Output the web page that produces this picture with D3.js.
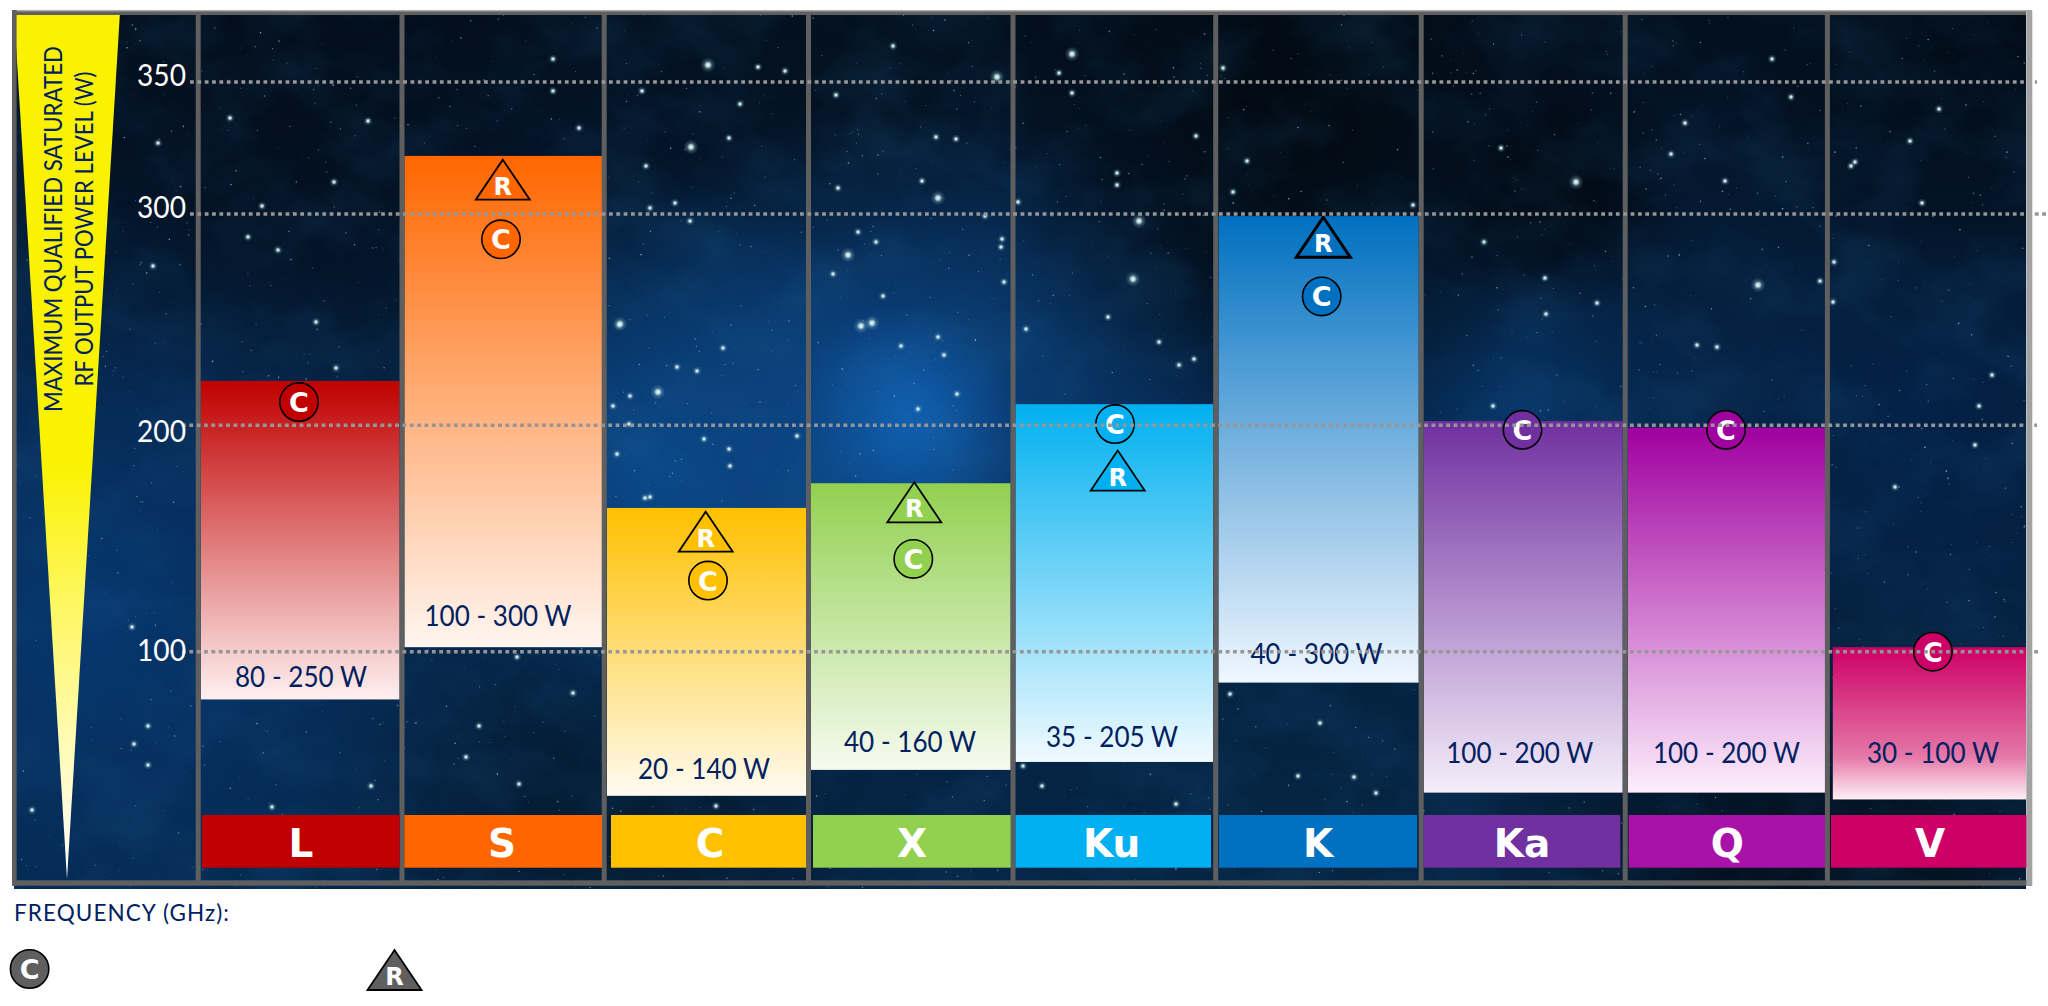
<!DOCTYPE html>
<html><head><meta charset="utf-8">
<script src="https://cdn.jsdelivr.net/npm/d3@7"></script>
<style>html,body{margin:0;padding:0;background:#fff}svg{display:block}</style>
</head><body><svg id="c" width="2048" height="1006"></svg>
<script>
// ---- data ----
const bands      = ["L","S","C","X","Ku","K","Ka","Q","V"];
const rangeText  = ["80 - 250 W","100 - 300 W","20 - 140 W","40 - 160 W","35 - 205 W","40 - 300 W","100 - 200 W","100 - 200 W","30 - 100 W"];
const barTop     = [221,322,163.5,174.4,210,299,202,199,102];
const barBottom  = [79,102,36.6,48,51.5,86.4,38,38,35];
const cMarker    = [211,288,131.4,141,200.6,261,198,198,100];
const rMarker    = [null,313,153,166,180,289,null,null,null];
const bandColor  = ["#C00000","#FF6600","#FFC000","#92D050","#00B0F0","#0070C0","#7030A0","#A000A0","#CC0066"];
const chipColor  = ["#C00000","#FF6600","#FFC000","#92D050","#00B0F0","#0070C0","#7030A0","#A812A8","#CC0066"];
const bandPale   = ["#FFF0F0","#FFF6F0","#FFFBF0","#F6FBF0","#F0FAFF","#F0F7FF","#F5EEFA","#FDEEFC","#FFF0F5"];
const ticks      = [100,200,300,350];
const axisDomain = [0,100,200,300,350,375];
const axisTitle  = ["MAXIMUM QUALIFIED SATURATED","RF OUTPUT POWER LEVEL (W)"];

// ---- layout ----
const W=2048,H=1006;
const svg=d3.select("#c");
const y=d3.scaleLinear().domain(axisDomain).range([879,651.7,425.3,214,82,15]);
const x=d3.scaleLinear().domain(d3.range(10)).range([198.2,402,604.2,808.5,1013,1215.7,1421.2,1625.2,1827.4,2030]);
const chipL=[3.8,2.4,6.8,4.5,2.5,3.3,2.4,3.4,3.6], chipR=[2.4,2.2,2.5,2.3,4.7,4.2,4.9,2.4,3];
const barL=[2.6,2.4,2.8,2.5,2.5,2.8,2.5,2.6,5.4], barR=[2.4,2.2,2.5,2.3,2.6,2.5,2.5,2.4,4];
const rangeDx=[0.9,-5.1,-2.35,-0.75,-2.35,-1.95,-3.5,0.1,4.2], rangeUp=[12,21,16.7,18,15.3,18.7,29.6,29.6,36.6];
const letterDx=[0.9,-1.1,3.65,1.25,-2.65,-0.45,-1.2,1.1,1.3];
const cDx=[-1.1,-2.1,1.65,2.55,0.65,3.25,-0.7,-0.3,4.2], rDx=[0,-0.3,-0.65,3.55,3.35,4.85,0,0,0];
const mid=i=>(x(i)+x(i+1))/2;
const idx=bands.map((_,i)=>i);
const NAVY="#002060", FRAME="#5f5f5f";
const F="Lato, sans-serif", FB="'DejaVu Sans', sans-serif";

const defs=svg.append("defs");
// bar gradients
idx.forEach(i=>{
  const g=defs.append("linearGradient").attr("id","bar"+i).attr("x1",0).attr("y1",0).attr("x2",0).attr("y2",1);
  g.append("stop").attr("offset",0).attr("stop-color",bandColor[i]);
  if(i===8) g.append("stop").attr("offset",.72).attr("stop-color","#E578A8");
  g.append("stop").attr("offset",1).attr("stop-color",bandPale[i]);
});
const wg=defs.append("linearGradient").attr("id","wedge").attr("x1",0).attr("y1",0).attr("x2",0).attr("y2",1);
[[0,"#FAF200"],[.52,"#FAF200"],[.68,"#FEF760"],[.85,"#FFFBB8"],[1,"#FFFFFF"]].forEach(s=>wg.append("stop").attr("offset",s[0]).attr("stop-color",s[1]));
const st=defs.append("radialGradient").attr("id","star");
[[0,"#F2FFFF",1],[.28,"#CFEAEA",.85],[.55,"#8FC0CC",.3],[1,"#8FC0CC",0]].forEach(s=>st.append("stop").attr("offset",s[0]).attr("stop-color",s[1]).attr("stop-opacity",s[2]));
defs.append("filter").attr("id","cloud").attr("x",0).attr("y",0).attr("width","100%").attr("height","100%")
  .call(f=>{f.append("feTurbulence").attr("type","fractalNoise").attr("baseFrequency","0.012 0.016").attr("numOctaves",5).attr("seed",7);
    f.append("feColorMatrix").attr("values","0 0 0 0 0.02  0 0 0 0 0.14  0 0 0 0 0.34  1.6 0 0 0 -0.62");});
const blobs=[[900,430,340,"#0D4F96",.95],[905,415,110,"#1470CC",.6],[90,620,430,"#07376F",1],[650,470,290,"#0B4A8C",.95],
  [1530,420,190,"#084484",.65],[1720,400,240,"#06274E",.7],[1930,430,220,"#03224A",.7],[1170,500,220,"#07386C",.5],
  [1300,110,320,"#020A12",1],[1560,190,130,"#01070E",.95],[1960,60,220,"#020C18",.9],[300,100,320,"#030E1C",.85],[850,50,220,"#04121F",.6],
  [1760,880,300,"#020F1C",.95],[1930,880,240,"#020F1C",.8],[620,860,280,"#04182C",.9],[1300,830,300,"#052440",.7]];
blobs.forEach((b,i)=>{
  const g=defs.append("radialGradient").attr("id","blob"+i);
  g.append("stop").attr("offset",0).attr("stop-color",b[3]).attr("stop-opacity",b[4]);
  g.append("stop").attr("offset",1).attr("stop-color",b[3]).attr("stop-opacity",0);
});
const clip=defs.append("clipPath").attr("id","bgclip");
clip.append("rect").attr("x",14).attr("y",12).attr("width",2012).attr("height",877);
const bgv=defs.append("linearGradient").attr("id","bgv").attr("x1",0).attr("y1",0).attr("x2",0).attr("y2",1);
bgv.append("stop").attr("offset",0).attr("stop-color","#030F1E");
bgv.append("stop").attr("offset",.5).attr("stop-color","#05203F");
bgv.append("stop").attr("offset",1).attr("stop-color","#052545");

// ---- backdrop (decorative starfield, not data) ----
const bg=svg.append("g").attr("clip-path","url(#bgclip)");
bg.append("rect").attr("x",14).attr("y",12).attr("width",2012).attr("height",877).attr("fill","url(#bgv)");
blobs.forEach((b,i)=>bg.append("circle").attr("cx",b[0]).attr("cy",b[1]).attr("r",b[2]).attr("fill",`url(#blob${i})`));
bg.append("rect").attr("x",14).attr("y",12).attr("width",2012).attr("height",877).attr("filter","url(#cloud)").attr("opacity",.22);
// faint specks from a fixed linear-congruential sequence
let seed=20481006; const nx=()=>(seed=(seed*1664525+1013904223)%4294967296)/4294967296;
const specks=d3.range(2400).map(()=>[14+nx()*2012,12+nx()*877,.3+nx()*.55,.2+nx()*.5]);
bg.append("g").selectAll("circle").data(specks).join("circle")
  .attr("cx",d=>d[0]).attr("cy",d=>d[1]).attr("r",d=>d[2]).attr("fill","#BFE0EC").attr("opacity",d=>d[3]);
// brighter stars, located by eye in the reference
const stars=[[1072,93],[1196,136],[1247,161],[1233,192],[1159,342],[1026,329],[1108,317],[1179,365],[1194,359],[1223,68],[1413,205],[1484,242],[1501,148],[1117,173],[1117,185],[1059,73],[1018,202],
[1545,278],[1597,303],[1546,314],[1791,97],[1685,123],[1671,154],[1820,281],[1725,181],[1717,347],[1697,345],[1772,59],[1834,262],[1833,302],[1851,166],[1855,162],[1922,203],[1910,141],[1939,109],[1992,375],[1979,406],[1895,487],[1975,445],
[630,396],[629,424],[704,439],[729,449],[617,454],[730,466],[650,497],[645,498],[918,409],[957,394],[573,693],[519,784],[517,657],[716,806],[797,436],
[368,121],[230,118],[158,143],[153,266],[334,182],[262,206],[316,322],[336,368],[553,59],[579,128],[553,91],[278,250],[248,237],[613,406],[619,325],
[148,726],[148,765],[132,627],[371,786],[272,807],[479,726],[466,757],[32,810],[134,744],[1230,694],[1320,723],[1376,793],[1354,777],[1042,786],[1023,766],[1176,804],[1298,776],[1493,406],
[785,71],[758,67],[642,91],[740,104],[729,138],[646,166],[650,208],[690,221],[675,203],[677,367],[697,371],[723,348],
[836,95],[936,137],[956,139],[922,181],[985,216],[876,242],[858,232],[833,274],[883,296],[901,346],[938,337],[944,355],[1002,239],[1001,247],[1004,282],[893,46],[838,188]];
const bigStars=[[861,326],[872,323],[997,77],[938,198],[691,147],[658,392],[620,324],[708,65],[1133,279],[1139,221],[1072,54],[1758,285],[1576,182],[848,255]];
bg.append("g").selectAll("circle").data(stars).join("circle")
  .attr("cx",d=>d[0]).attr("cy",d=>d[1]).attr("r",4.6).attr("fill","url(#star)");
bg.append("g").selectAll("circle").data(bigStars).join("circle")
  .attr("cx",d=>d[0]).attr("cy",d=>d[1]).attr("r",7.5).attr("fill","url(#star)");

// ---- bars ----
svg.append("g").selectAll("rect").data(idx).join("rect")
  .attr("x",i=>x(i)+barL[i]).attr("width",i=>x(i+1)-barR[i]-x(i)-barL[i])
  .attr("y",i=>y(barTop[i])).attr("height",i=>y(barBottom[i])-y(barTop[i]))
  .attr("fill",i=>`url(#bar${i})`);
// separators
svg.append("g").selectAll("rect").data(d3.range(9)).join("rect")
  .attr("x",i=>x(i)-2.5).attr("width",5).attr("y",13).attr("height",868).attr("fill",FRAME);
// chips
svg.append("g").selectAll("rect").data(idx).join("rect")
  .attr("x",i=>x(i)+chipL[i]).attr("width",i=>x(i+1)-chipR[i]-x(i)-chipL[i])
  .attr("y",815).attr("height",52.7).attr("fill",i=>chipColor[i]);
svg.append("g").selectAll("text").data(idx).join("text")
  .attr("x",i=>mid(i)+letterDx[i]).attr("y",857).attr("text-anchor","middle")
  .attr("font-family",FB).attr("font-weight",700).attr("font-size",39).attr("fill","#fff").text(i=>bands[i]);
// range labels
svg.append("g").selectAll("text").data(idx).join("text")
  .attr("x",i=>mid(i)+rangeDx[i]).attr("y",i=>y(barBottom[i])-rangeUp[i]).attr("text-anchor","middle")
  .attr("font-family",F).attr("font-size",28).attr("fill",NAVY)
  .attr("textLength",i=>rangeText[i].length===11?147:132).attr("lengthAdjust","spacingAndGlyphs").text(i=>rangeText[i]);

// markers
const tri=d3.line();
function triangle(g,cx,cy,col,sw){
  g.append("path").attr("d",tri([[cx,cy-20],[cx+27,cy+20],[cx-27,cy+20]])+"Z").attr("fill",col).attr("stroke","#000").attr("stroke-width",sw).attr("stroke-linejoin","miter");
  g.append("text").attr("x",cx).attr("y",cy+15).attr("text-anchor","middle").attr("font-family",FB).attr("font-weight",700).attr("font-size",24).attr("fill","#fff").text("R");
}
function disc(g,cx,cy,col){
  g.append("circle").attr("cx",cx).attr("cy",cy).attr("r",19.2).attr("fill",col).attr("stroke","#000").attr("stroke-width",1.6);
  g.append("text").attr("x",cx).attr("y",cy+10).attr("text-anchor","middle").attr("font-family",FB).attr("font-weight",700).attr("font-size",27).attr("fill","#fff").text("C");
}
const mk=svg.append("g");
idx.forEach(i=>{
  if(rMarker[i]!=null) triangle(mk,mid(i)+rDx[i],y(rMarker[i]),bandColor[i],i===5?3:1.8);
  if(cMarker[i]!=null) disc(mk,mid(i)+cDx[i],y(cMarker[i]),bandColor[i]);
});

// ---- wedge & axis ----
svg.append("path").attr("d",d3.line()([[14,12],[120,12],[67,879]])+"Z").attr("fill","url(#wedge)");
const tg=svg.append("g").attr("font-family",F).attr("font-size",24.5).attr("fill",NAVY).attr("text-anchor","middle");
axisTitle.forEach((t,i)=>tg.append("text").attr("transform",`translate(${[62,93][i]},229) rotate(-90)`)
  .attr("textLength",[366,315][i]).attr("lengthAdjust","spacingAndGlyphs").text(t));

// frame
const fr=svg.append("g").attr("fill",FRAME);
fr.append("rect").attr("x",12).attr("y",10).attr("width",2014).attr("height",5);
fr.append("rect").attr("x",12).attr("y",10).attr("width",2020).attr("height",1.5).attr("fill","#a8a8a8");
fr.append("rect").attr("x",12).attr("y",10).attr("width",4.6).attr("height",875.7);
fr.append("rect").attr("x",12).attr("y",880.3).attr("width",2020).attr("height",5.4);

// gridlines
const gridStart={100:182,200:182,300:190,350:190}, gridEnd={100:2039,200:2037,300:2046,350:2037};
svg.append("g").selectAll("line").data(ticks).join("line")
  .attr("x1",t=>gridStart[t]).attr("x2",t=>gridEnd[t]).attr("y1",t=>y(t)).attr("y2",t=>y(t))
  .attr("stroke","#969696").attr("stroke-width",3.6).attr("stroke-dasharray","3.8 3.55");
// right frame above the lines
svg.append("rect").attr("x",2026.3).attr("y",11).attr("width",6).attr("height",874.7).attr("fill","#a2a2a2");

const tickDy={100:9,200:16,300:3,350:3};
const axis=svg.append("g").attr("transform","translate(186,0)")
  .call(d3.axisLeft(y).tickValues(ticks).tickSize(0).tickPadding(0));
axis.select(".domain").remove();
axis.selectAll("text").attr("font-family",F).attr("font-size",30).attr("fill","#fff")
  .attr("dy",0).attr("y",t=>tickDy[t]).attr("textLength",49).attr("lengthAdjust","spacingAndGlyphs");

// ---- footer ----
svg.append("text").attr("x",14).attr("y",921).attr("font-family",F).attr("font-size",22.5).attr("fill",NAVY)
  .attr("textLength",215).attr("lengthAdjust","spacing").text("FREQUENCY (GHz):");
disc(svg.append("g"),29.6,969,FRAME);
triangle(svg.append("g"),394.5,970,FRAME,1.8);
</script></body></html>
